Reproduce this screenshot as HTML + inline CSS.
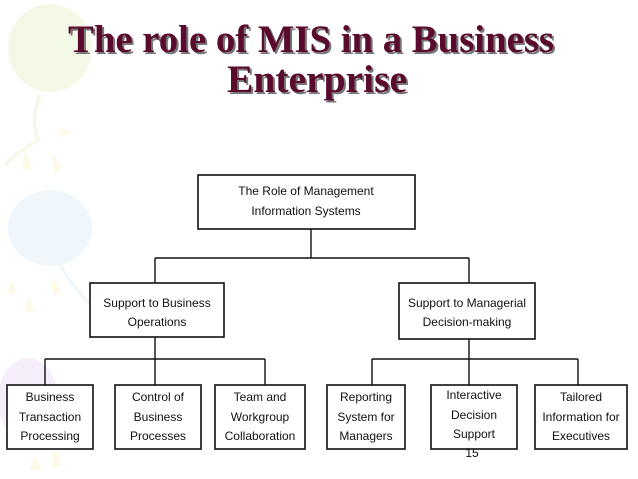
<!DOCTYPE html>
<html><head><meta charset="utf-8"><style>
html,body{margin:0;padding:0;background:#fff;}
svg{display:block;}
.t{font-family:"Liberation Sans",Arial,sans-serif;font-size:12px;fill:#111;text-anchor:middle;}
</style></head><body>
<svg width="638" height="479" viewBox="0 0 638 479" xmlns="http://www.w3.org/2000/svg">
<!-- balloons -->
<ellipse cx="50" cy="48" rx="42" ry="44" fill="#f3f9e6"/>
<path d="M40 95 Q30 120 38 140 Q20 150 5 165" stroke="#f3f8e6" stroke-width="3" fill="none"/>
<ellipse cx="50" cy="228" rx="42" ry="38" fill="#eff7fc"/>
<path d="M60 265 Q80 300 120 330" stroke="#eff7fc" stroke-width="3" fill="none"/>
<ellipse cx="28" cy="400" rx="30" ry="42" fill="#f6eefa"/>
<g fill="#fcfae6"><polygon points="26,150 32,170 22,168"/><polygon points="52,152 62,168 54,172"/><polygon points="58,128 72,132 62,138"/><polygon points="10,280 18,292 8,294"/><polygon points="28,295 34,312 25,312"/><polygon points="50,275 62,292 54,295"/><polygon points="35,455 42,470 30,470"/><polygon points="55,450 62,465 52,468"/></g>
<!-- title -->
<g font-family="Liberation Serif,'Times New Roman',serif" font-weight="bold" font-size="39">
<text x="70" y="54" textLength="486" lengthAdjust="spacingAndGlyphs" fill="#777">The role of MIS in a Business</text>
<text x="68" y="52" textLength="486" lengthAdjust="spacingAndGlyphs" fill="#5a0a2c">The role of MIS in a Business</text>
<text x="229" y="94" textLength="180" lengthAdjust="spacingAndGlyphs" fill="#777">Enterprise</text>
<text x="227" y="92" textLength="180" lengthAdjust="spacingAndGlyphs" fill="#5a0a2c">Enterprise</text>
</g>
<!-- connectors -->
<g stroke="#111" stroke-width="1.4" fill="none">
<path d="M311 229V258M155 258H469M155 258V283M469 258V283"/>
<path d="M155 337V359M45 359H265M45 359V385M155 359V385M265 359V385"/>
<path d="M469 339V385M372 359H578M372 359V385M578 359V385"/>
</g>
<!-- boxes -->
<g stroke="#111" stroke-width="1.6" fill="#fff">
<rect x="198" y="175" width="217" height="54"/>
<rect x="90" y="283" width="134" height="54"/>
<rect x="399" y="283" width="136" height="56"/>
<rect x="7" y="385" width="86" height="64"/>
<rect x="115" y="385" width="86" height="64"/>
<rect x="215" y="385" width="90" height="64"/>
<rect x="327" y="385" width="78" height="64"/>
<rect x="431" y="385" width="86" height="64"/>
<rect x="535" y="385" width="92" height="64"/>
</g>
<g class="t">
<text x="306" y="195" class="t" font-size="11.5">The Role of Management</text>
<text x="306" y="215" class="t" font-size="11.5">Information Systems</text>
<text x="157" y="307" class="t">Support to Business</text>
<text x="157" y="326" class="t">Operations</text>
<text x="467" y="307" class="t">Support to Managerial</text>
<text x="467" y="326" class="t">Decision-making</text>
<text x="50" y="401" class="t">Business</text><text x="50" y="421" class="t">Transaction</text><text x="50" y="440" class="t">Processing</text>
<text x="158" y="401" class="t">Control of</text><text x="158" y="421" class="t">Business</text><text x="158" y="440" class="t">Processes</text>
<text x="260" y="401" class="t">Team and</text><text x="260" y="421" class="t">Workgroup</text><text x="260" y="440" class="t">Collaboration</text>
<text x="366" y="401" class="t">Reporting</text><text x="366" y="421" class="t">System for</text><text x="366" y="440" class="t">Managers</text>
<text x="474" y="399" class="t">Interactive</text><text x="474" y="419" class="t">Decision</text><text x="474" y="438" class="t">Support</text>
<text x="581" y="401" class="t">Tailored</text><text x="581" y="421" class="t">Information for</text><text x="581" y="440" class="t">Executives</text>
<text x="472" y="457" class="t" font-size="15">15</text>
</g>
</svg>
</body></html>
